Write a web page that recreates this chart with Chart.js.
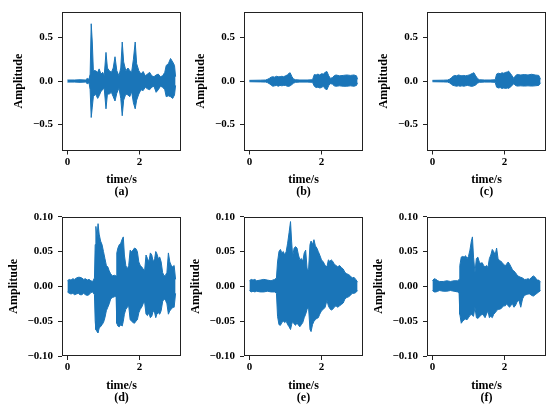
<!DOCTYPE html>
<html><head><meta charset="utf-8">
<script src="https://cdn.jsdelivr.net/npm/chart.js@4/dist/chart.umd.min.js"></script>
<style>
html,body{margin:0;padding:0;background:#fff;width:550px;height:411px;overflow:hidden}
.p{position:absolute}
</style></head><body>
<div class="p" style="left:0px;top:0px"><canvas id="ca" width="184" height="198"></canvas></div>
<div class="p" style="left:182px;top:0px"><canvas id="cb" width="184" height="198"></canvas></div>
<div class="p" style="left:365px;top:0px"><canvas id="cc" width="184" height="198"></canvas></div>
<div class="p" style="left:0px;top:205px"><canvas id="cd" width="184" height="199"></canvas></div>
<div class="p" style="left:182px;top:205px"><canvas id="ce" width="184" height="199"></canvas></div>
<div class="p" style="left:365px;top:205px"><canvas id="cf" width="184" height="199"></canvas></div>
<script>
// ---- data (envelopes) ----
const panelLabels = ['(a)','(b)','(c)','(d)','(e)','(f)'];
const xTicks = [0, 2];
const xTickLabels = ['0', '2'];
const yTicksTop = [-0.5, 0, 0.5];
const yTickLabelsTop = ['\u22120.5', '0.0', '0.5'];
const yTicksBottom = [-0.10, -0.05, 0, 0.05, 0.10];
const yTickLabelsBottom = ['\u22120.10', '\u22120.05', '0.00', '0.05', '0.10'];

const tA  = [0.00,0.20,0.35,0.50,0.55,0.60,0.63,0.66,0.69,0.72,0.78,0.84,0.88,0.93,0.98,1.02,1.07,1.11,1.16,1.22,1.27,1.32,1.37,1.43,1.48,1.52,1.56,1.62,1.68,1.73,1.78,1.83,1.88,1.92,1.98,2.04,2.10,2.16,2.22,2.28,2.34,2.40,2.46,2.52,2.58,2.64,2.70,2.74,2.80,2.86,2.92,2.97,3.00];
const upA = [0.012,0.012,0.015,0.012,0.03,0.02,0.08,0.66,0.45,0.12,0.12,0.10,0.14,0.08,0.10,0.06,0.33,0.15,0.12,0.10,0.15,0.28,0.12,0.06,0.15,0.45,0.22,0.12,0.15,0.12,0.10,0.25,0.45,0.20,0.12,0.08,0.11,0.06,0.08,0.10,0.06,0.05,0.07,0.08,0.05,0.06,0.10,0.18,0.20,0.26,0.22,0.18,0.05];
const loA = [-0.012,-0.012,-0.015,-0.012,-0.03,-0.02,-0.10,-0.42,-0.30,-0.18,-0.15,-0.20,-0.17,-0.12,-0.10,-0.08,-0.32,-0.15,-0.15,-0.13,-0.18,-0.23,-0.14,-0.08,-0.20,-0.40,-0.22,-0.15,-0.16,-0.18,-0.12,-0.25,-0.32,-0.22,-0.15,-0.10,-0.11,-0.07,-0.09,-0.10,-0.07,-0.06,-0.13,-0.10,-0.06,-0.07,-0.10,-0.18,-0.17,-0.18,-0.20,-0.16,-0.05];

const tB  = [0.00,0.30,0.45,0.50,0.55,0.60,0.65,0.70,0.75,0.80,0.85,0.90,0.95,1.00,1.05,1.10,1.13,1.18,1.22,1.28,1.40,1.60,1.75,1.80,1.85,1.90,1.95,2.00,2.05,2.10,2.15,2.20,2.25,2.30,2.35,2.40,2.50,2.60,2.70,2.80,2.90,2.97,3.00];
const upB = [0.008,0.010,0.012,0.020,0.030,0.045,0.050,0.045,0.055,0.050,0.050,0.055,0.050,0.060,0.070,0.090,0.095,0.050,0.025,0.015,0.012,0.012,0.015,0.075,0.070,0.080,0.070,0.085,0.080,0.100,0.110,0.060,0.030,0.040,0.060,0.070,0.060,0.065,0.070,0.065,0.070,0.060,0.020];
const loB = [-0.008,-0.010,-0.012,-0.018,-0.030,-0.045,-0.060,-0.055,-0.050,-0.060,-0.050,-0.055,-0.050,-0.050,-0.060,-0.060,-0.055,-0.040,-0.025,-0.015,-0.012,-0.012,-0.015,-0.060,-0.075,-0.070,-0.080,-0.075,-0.060,-0.090,-0.100,-0.050,-0.030,-0.035,-0.055,-0.060,-0.055,-0.060,-0.060,-0.055,-0.060,-0.050,-0.020];

const tC  = [0.00,0.30,0.42,0.47,0.52,0.57,0.62,0.67,0.72,0.77,0.82,0.87,0.92,0.97,1.02,1.07,1.12,1.15,1.20,1.25,1.30,1.45,1.60,1.74,1.78,1.83,1.88,1.93,1.98,2.03,2.08,2.11,2.16,2.21,2.26,2.30,2.35,2.45,2.55,2.65,2.75,2.85,2.95,3.00];
const upC = [0.008,0.010,0.012,0.020,0.035,0.055,0.065,0.060,0.070,0.065,0.060,0.065,0.060,0.065,0.070,0.080,0.090,0.096,0.060,0.030,0.015,0.012,0.012,0.015,0.080,0.090,0.085,0.095,0.090,0.100,0.105,0.115,0.090,0.060,0.030,0.060,0.075,0.070,0.075,0.070,0.078,0.070,0.065,0.020];
const loC = [-0.008,-0.010,-0.012,-0.020,-0.035,-0.050,-0.055,-0.060,-0.055,-0.060,-0.055,-0.060,-0.055,-0.050,-0.055,-0.060,-0.060,-0.055,-0.045,-0.025,-0.015,-0.012,-0.012,-0.015,-0.070,-0.080,-0.075,-0.085,-0.080,-0.085,-0.080,-0.085,-0.070,-0.050,-0.030,-0.050,-0.058,-0.055,-0.058,-0.055,-0.058,-0.055,-0.050,-0.020];

const tD  = [0.00,0.05,0.10,0.15,0.20,0.25,0.30,0.35,0.40,0.45,0.50,0.55,0.60,0.65,0.70,0.75,0.77,0.79,0.82,0.85,0.88,0.92,0.96,1.00,1.04,1.08,1.12,1.16,1.20,1.25,1.30,1.35,1.37,1.40,1.44,1.48,1.52,1.55,1.58,1.62,1.66,1.70,1.74,1.78,1.82,1.86,1.90,1.94,1.98,2.02,2.06,2.10,2.14,2.18,2.22,2.26,2.30,2.34,2.38,2.42,2.45,2.48,2.52,2.56,2.60,2.64,2.68,2.72,2.76,2.80,2.84,2.88,2.92,2.96,3.00];
const upD = [0.008,0.010,0.009,0.011,0.010,0.012,0.013,0.013,0.012,0.010,0.011,0.009,0.010,0.008,0.007,0.012,0.060,0.086,0.070,0.090,0.075,0.065,0.060,0.050,0.040,0.030,0.028,0.022,0.018,0.015,0.016,0.015,0.048,0.055,0.060,0.062,0.068,0.071,0.045,0.030,0.025,0.030,0.052,0.050,0.052,0.055,0.054,0.050,0.035,0.030,0.028,0.025,0.022,0.045,0.040,0.035,0.048,0.045,0.035,0.040,0.050,0.047,0.040,0.042,0.035,0.020,0.015,0.016,0.020,0.048,0.035,0.030,0.028,0.030,0.010];
const loD = [-0.008,-0.010,-0.011,-0.010,-0.012,-0.011,-0.010,-0.012,-0.012,-0.010,-0.012,-0.013,-0.012,-0.009,-0.008,-0.012,-0.050,-0.062,-0.065,-0.067,-0.060,-0.058,-0.055,-0.052,-0.045,-0.035,-0.030,-0.025,-0.018,-0.016,-0.015,-0.014,-0.053,-0.057,-0.058,-0.055,-0.057,-0.050,-0.040,-0.033,-0.030,-0.028,-0.048,-0.050,-0.052,-0.053,-0.050,-0.048,-0.038,-0.033,-0.030,-0.025,-0.022,-0.040,-0.042,-0.038,-0.045,-0.043,-0.035,-0.038,-0.045,-0.040,-0.038,-0.040,-0.035,-0.022,-0.018,-0.020,-0.025,-0.040,-0.035,-0.033,-0.030,-0.030,-0.010];

const tE  = [0.00,0.05,0.10,0.15,0.20,0.30,0.40,0.50,0.60,0.70,0.75,0.78,0.82,0.86,0.90,0.94,0.98,1.02,1.06,1.10,1.14,1.17,1.20,1.24,1.28,1.32,1.36,1.40,1.44,1.48,1.52,1.56,1.60,1.64,1.68,1.71,1.75,1.79,1.83,1.87,1.91,1.95,2.00,2.05,2.10,2.15,2.19,2.23,2.27,2.31,2.35,2.40,2.45,2.50,2.55,2.60,2.65,2.70,2.75,2.80,2.85,2.90,2.95,3.00];
const upE = [0.008,0.010,0.009,0.010,0.008,0.009,0.010,0.009,0.008,0.010,0.012,0.035,0.050,0.053,0.048,0.050,0.045,0.050,0.062,0.077,0.093,0.065,0.043,0.055,0.057,0.055,0.045,0.038,0.040,0.036,0.048,0.052,0.025,0.024,0.060,0.065,0.060,0.067,0.058,0.055,0.050,0.045,0.038,0.035,0.030,0.028,0.038,0.036,0.038,0.036,0.032,0.030,0.028,0.030,0.027,0.025,0.020,0.018,0.017,0.015,0.012,0.013,0.010,0.006];
const loE = [-0.006,-0.008,-0.007,-0.008,-0.007,-0.008,-0.008,-0.007,-0.008,-0.008,-0.010,-0.043,-0.055,-0.056,-0.052,-0.050,-0.052,-0.050,-0.055,-0.058,-0.062,-0.055,-0.050,-0.054,-0.056,-0.052,-0.056,-0.058,-0.055,-0.052,-0.045,-0.040,-0.033,-0.030,-0.062,-0.065,-0.055,-0.050,-0.048,-0.046,-0.045,-0.040,-0.035,-0.033,-0.030,-0.020,-0.028,-0.032,-0.034,-0.033,-0.030,-0.028,-0.030,-0.028,-0.026,-0.024,-0.018,-0.016,-0.015,-0.013,-0.010,-0.010,-0.009,-0.006];

const tF  = [0.00,0.05,0.10,0.15,0.20,0.30,0.40,0.50,0.60,0.70,0.74,0.76,0.80,0.84,0.88,0.92,0.96,1.00,1.04,1.08,1.11,1.14,1.18,1.22,1.26,1.30,1.34,1.38,1.42,1.46,1.50,1.54,1.58,1.62,1.66,1.70,1.74,1.78,1.82,1.86,1.90,1.94,1.98,2.02,2.06,2.10,2.14,2.18,2.22,2.26,2.30,2.35,2.40,2.45,2.50,2.55,2.60,2.65,2.70,2.75,2.80,2.85,2.90,2.95,3.00];
const upF = [0.008,0.011,0.010,0.008,0.007,0.007,0.008,0.007,0.008,0.008,0.010,0.030,0.042,0.043,0.042,0.044,0.040,0.043,0.052,0.065,0.071,0.042,0.020,0.040,0.042,0.035,0.033,0.034,0.030,0.028,0.030,0.027,0.040,0.045,0.053,0.050,0.045,0.055,0.040,0.037,0.036,0.034,0.031,0.030,0.032,0.035,0.032,0.028,0.024,0.022,0.020,0.016,0.014,0.013,0.012,0.010,0.010,0.011,0.010,0.013,0.015,0.013,0.009,0.009,0.006];
const loF = [-0.006,-0.008,-0.008,-0.007,-0.006,-0.007,-0.007,-0.006,-0.007,-0.008,-0.010,-0.040,-0.053,-0.050,-0.048,-0.047,-0.048,-0.045,-0.042,-0.040,-0.042,-0.043,-0.030,-0.045,-0.046,-0.044,-0.042,-0.040,-0.042,-0.045,-0.040,-0.035,-0.045,-0.043,-0.045,-0.040,-0.038,-0.035,-0.033,-0.033,-0.032,-0.030,-0.028,-0.028,-0.025,-0.028,-0.030,-0.027,-0.025,-0.030,-0.028,-0.022,-0.020,-0.030,-0.018,-0.013,-0.012,-0.011,-0.011,-0.013,-0.014,-0.012,-0.010,-0.008,-0.006];

// ---- rendering ----
const BLUE = '#1a75b8';
Chart.defaults.font.family = '"Liberation Serif","Times New Roman",serif';
Chart.defaults.font.weight = 'bold';
Chart.defaults.color = '#000';

const framePlugin = {
  id: 'frame',
  afterDraw(chart) {
    const {ctx, chartArea: a} = chart;
    ctx.save();
    ctx.strokeStyle = '#222';
    ctx.lineWidth = 1;
    const l = Math.round(a.left) + 0.5, t = Math.round(a.top) + 0.5;
    const r = Math.round(a.right) - 0.5, b = Math.round(a.bottom) - 0.5;
    ctx.strokeRect(l, t, r - l, b - t);
    ctx.restore();
  }
};

function pts(t, v) { return t.map((x, i) => ({x: x, y: v[i]})); }

function makeChart(id, label, t, up, lo, row) {
  const top = row === 0;
  const yT = top ? yTicksTop : yTicksBottom;
  const yL = top ? yTickLabelsTop : yTickLabelsBottom;
  new Chart(document.getElementById(id), {
    type: 'line',
    data: {
      datasets: [
        {data: pts(t, up), borderColor: BLUE, backgroundColor: BLUE, borderWidth: 1, pointRadius: 0, fill: '+1', tension: 0},
        {data: pts(t, lo), borderColor: BLUE, backgroundColor: BLUE, borderWidth: 1, pointRadius: 0, fill: false, tension: 0}
      ]
    },
    options: {
      responsive: false,
      animation: false,
      events: [],
      layout: {padding: {top: top ? 10 : 11.7, right: 3, bottom: 0, left: 0}},
      plugins: {legend: {display: false}, tooltip: {enabled: false}},
      scales: {
        x: {
          type: 'linear', min: -0.15, max: 3.15,
          afterBuildTicks: s => { s.ticks = xTicks.map(v => ({value: v})); },
          afterFit: s => { s.height = top ? 47.5 : 48; },
          ticks: {callback: (v, i) => xTickLabels[i], font: {size: 11, weight: 'bold'}, color: '#000', padding: 1, maxRotation: 0, autoSkip: false},
          grid: {display: true, drawOnChartArea: false, drawTicks: true, tickLength: 4, color: '#222'},
          border: {display: false},
          title: {display: true, text: ['time/s', label], font: {size: 12, weight: 'bold', lineHeight: 1}, color: '#000', padding: 0}
        },
        y: {
          type: 'linear', min: top ? -0.8 : -0.1, max: top ? 0.8 : 0.1,
          afterBuildTicks: s => { s.ticks = yT.map(v => ({value: v})); },
          afterFit: s => { s.width = 62; },
          ticks: {callback: (v, i) => yL[i], font: {size: 11, weight: 'bold'}, color: '#000', padding: 5, autoSkip: false},
          grid: {display: true, drawOnChartArea: false, drawTicks: true, tickLength: 4, color: '#222'},
          border: {display: false},
          title: {display: true, text: 'Amplitude', font: {size: 12, weight: 'bold', lineHeight: 1}, color: '#000', padding: {top: top ? 13 : 7.5, bottom: 0}}
        }
      }
    },
    plugins: [framePlugin]
  });
}

makeChart('ca', panelLabels[0], tA, upA, loA, 0);
makeChart('cb', panelLabels[1], tB, upB, loB, 0);
makeChart('cc', panelLabels[2], tC, upC, loC, 0);
makeChart('cd', panelLabels[3], tD, upD, loD, 1);
makeChart('ce', panelLabels[4], tE, upE, loE, 1);
makeChart('cf', panelLabels[5], tF, upF, loF, 1);
</script>
</body></html>
